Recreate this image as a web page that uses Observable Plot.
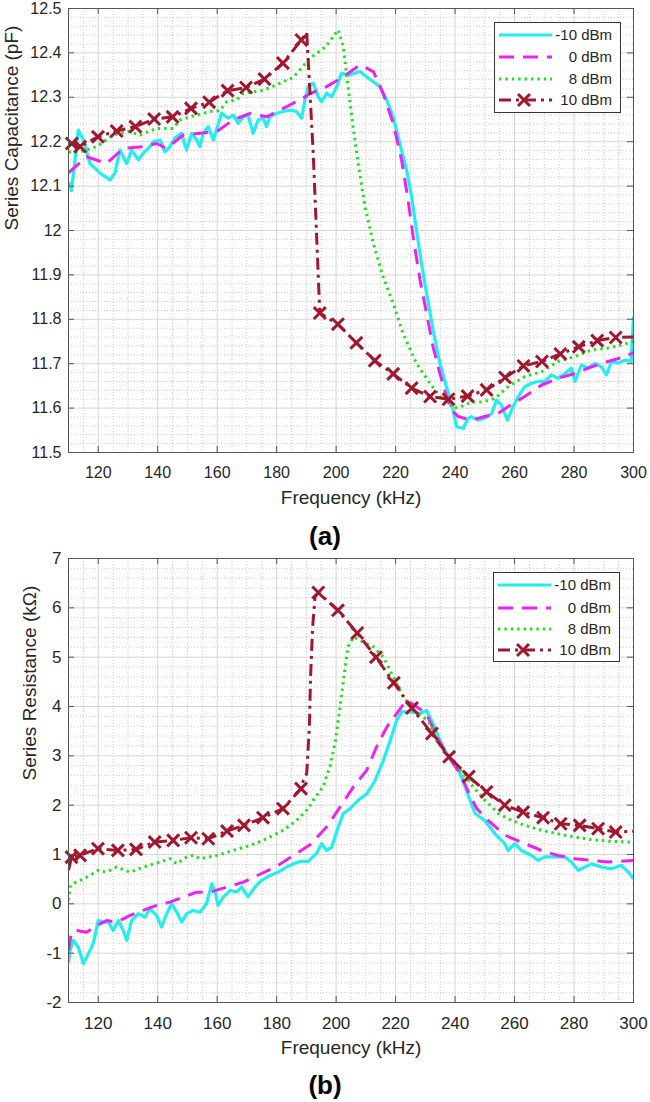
<!DOCTYPE html>
<html><head><meta charset="utf-8">
<script src="https://cdn.jsdelivr.net/npm/d3@7"></script>
<script src="https://cdn.jsdelivr.net/npm/@observablehq/plot@0.6"></script>
<style>
body{margin:0;background:#fff;}
#wrap{position:relative;width:650px;height:1102px;overflow:hidden;font-family:"Liberation Sans",Arial,sans-serif;color:#262626;background:#fff}
.panel{position:absolute;left:0}
.cap{position:absolute;left:0;width:650px;text-align:center;font-weight:bold;font-size:26px;line-height:30px;color:#000}
.legend{position:absolute;background:#fff;border:1px solid #333;box-sizing:border-box}
.legend svg{display:block}
</style></head><body><div id="wrap"></div><script>
// ---------- DATA ----------
const seriesNames = ["-10 dBm", "0 dBm", "8 dBm", "10 dBm"];
const xTicks = [120, 140, 160, 180, 200, 220, 240, 260, 280, 300];
const capTicks = [11.5, 11.6, 11.7, 11.8, 11.9, 12, 12.1, 12.2, 12.3, 12.4, 12.5];
const resTicks = [-2, -1, 0, 1, 2, 3, 4, 5, 6, 7];

// (a) Series capacitance (pF) vs frequency (kHz)
const capM10 = [[110,12.11],[111,12.09],[112.2,12.16],[113.3,12.226],[115,12.204],[117.2,12.151],[120.6,12.129],[124,12.114],[125.6,12.129],[127.3,12.181],[129.6,12.151],[131.2,12.181],[133.5,12.159],[135.1,12.174],[137.4,12.189],[138.5,12.2],[140.8,12.204],[142.4,12.177],[144.1,12.189],[145.8,12.208],[148,12.219],[149.7,12.181],[151.4,12.219],[153.1,12.204],[154.2,12.189],[155.3,12.219],[157,12.234],[158.7,12.204],[160.4,12.241],[161.5,12.264],[163.7,12.253],[165.4,12.26],[167.1,12.241],[168.8,12.256],[170.4,12.26],[172.1,12.219],[173.8,12.249],[175.5,12.253],[176.6,12.234],[177.7,12.256],[180,12.264],[182.2,12.268],[184.5,12.271],[186.7,12.268],[188.4,12.253],[189.5,12.294],[190.6,12.324],[192.3,12.332],[194,12.301],[195.1,12.29],[196.8,12.309],[198.5,12.301],[200.2,12.324],[201.8,12.354],[204.1,12.35],[206.3,12.354],[208,12.358],[210.2,12.346],[212.5,12.335],[214.7,12.324],[217,12.294],[219.2,12.256],[221.4,12.196],[223.7,12.136],[225.4,12.076],[227,12.001],[228.7,11.926],[230.4,11.859],[232.6,11.776],[234.9,11.701],[237.1,11.648],[238.8,11.611],[240.5,11.558],[242.7,11.554],[244.4,11.577],[245.5,11.581],[247.7,11.573],[250,11.577],[252.3,11.588],[253.9,11.618],[255.6,11.607],[257.6,11.573],[259.5,11.603],[261.2,11.626],[263.4,11.648],[265.7,11.656],[267.9,11.66],[270.2,11.66],[272.4,11.675],[274.6,11.667],[276.9,11.678],[279.1,11.69],[280.3,11.66],[282.5,11.697],[284.7,11.69],[287,11.701],[289.2,11.693],[290.9,11.675],[292.6,11.705],[294.8,11.701],[297.1,11.708],[299.2,11.705],[300,11.806]];
const cap0 = [[110,12.13],[116.1,12.166],[122.8,12.151],[128.4,12.185],[135.1,12.189],[139.6,12.196],[142.9,12.185],[148.6,12.215],[154.2,12.219],[159.8,12.223],[165.4,12.249],[171,12.264],[176.6,12.256],[182.2,12.275],[187.8,12.294],[191.2,12.308],[196.8,12.324],[202.4,12.346],[208,12.373],[212.5,12.358],[215.8,12.309],[219.2,12.241],[222,12.159],[224.2,12.069],[225.9,11.986],[228.2,11.889],[230.4,11.814],[232.6,11.738],[234.9,11.678],[237.1,11.626],[238.8,11.596],[241,11.581],[245.5,11.573],[250,11.581],[254.5,11.588],[257.8,11.603],[263.4,11.626],[269.1,11.652],[274.6,11.667],[280.3,11.678],[285.9,11.693],[291.4,11.705],[297.1,11.716],[300,11.725]];
const cap8 = [[110,12.177],[113.9,12.177],[119.5,12.189],[125,12.215],[130.1,12.223],[134,12.215],[139.6,12.23],[145.2,12.23],[147.5,12.249],[151.9,12.258],[157.6,12.268],[160.9,12.27],[163.2,12.29],[166.5,12.294],[168.8,12.309],[175.5,12.316],[180,12.328],[185.6,12.345],[191.2,12.388],[196.5,12.414],[200.7,12.452],[202.4,12.414],[204,12.324],[205.7,12.234],[207.4,12.151],[209.7,12.054],[212.5,11.971],[215.8,11.896],[219.2,11.836],[222.5,11.768],[227,11.701],[231.5,11.656],[236,11.618],[239.9,11.6],[242,11.603],[245.5,11.614],[249.4,11.614],[253.4,11.622],[257.8,11.648],[263.4,11.671],[269.1,11.682],[274.6,11.705],[280.3,11.716],[285.9,11.731],[291.4,11.735],[295.9,11.742],[300,11.75]];
const cap10Marks = [[111.1,12.196],[113.9,12.189],[119.9,12.211],[126.2,12.224],[132.5,12.234],[138.8,12.251],[145,12.256],[151.2,12.275],[157.3,12.289],[163.5,12.315],[169.7,12.322],[175.9,12.341],[182.1,12.377],[188.3,12.429],[194.5,11.814],[200.6,11.789],[206.8,11.747],[213,11.707],[219.2,11.677],[225.4,11.645],[231.6,11.626],[237.8,11.62],[244.2,11.627],[250.6,11.641],[256.8,11.669],[263,11.695],[269.2,11.705],[275.4,11.722],[281.6,11.738],[287.8,11.752],[294,11.759]];
const cap10Extra = [[110,12.19],[190.1,12.446],[192.3,12.174],[300,11.76]];

// (b) Series resistance (kOhm) vs frequency (kHz)
const resM10 = [[110,-1.2],[110.5,-0.945],[111.6,-0.74],[113.3,-0.88],[115,-1.21],[116.7,-1.01],[118.3,-0.81],[120,-0.34],[121.7,-0.37],[123.4,-0.37],[125,-0.54],[126.8,-0.34],[128.4,-0.54],[129.6,-0.74],[131.2,-0.34],[133.5,-0.2],[135.7,-0.27],[137.4,-0.1],[139.6,-0.235],[141.3,-0.47],[143,-0.2],[144.7,0.0],[146.4,-0.17],[148.1,-0.37],[149.8,-0.2],[151.9,-0.134],[154.2,-0.17],[156.4,0.0],[158.2,0.41],[159.3,0.24],[160.3,-0.03],[162.1,0.14],[164.4,0.27],[166.5,0.24],[168.2,0.34],[170.4,0.14],[172.7,0.34],[174.9,0.476],[177.8,0.576],[180.5,0.643],[183.3,0.745],[185.5,0.81],[187.8,0.86],[190.6,0.86],[193.4,1.02],[195.1,1.22],[196.8,1.08],[198.5,1.15],[200.7,1.556],[202.4,1.83],[204.7,1.93],[207.4,2.1],[210.3,2.23],[213.1,2.5],[215.9,2.91],[218.2,3.31],[220.4,3.72],[222,3.89],[224.8,3.89],[228.2,3.86],[230.4,3.92],[232.6,3.65],[234.9,3.31],[237.2,3.04],[239.4,2.84],[241.7,2.64],[244.4,2.2],[246.7,1.83],[250,1.69],[253.4,1.42],[256.7,1.22],[257.8,1.08],[260.1,1.22],[262.3,1.08],[265.7,0.98],[267.9,0.88],[270.2,0.95],[273.6,0.95],[276.9,0.95],[279.1,0.846],[281.4,0.68],[283.6,0.745],[285.9,0.81],[289.2,0.745],[292.6,0.71],[295.9,0.78],[298.2,0.643],[300,0.51]];
const res0 = [[110,-0.945],[111,-0.575],[112.8,-0.54],[116.1,-0.575],[119.5,-0.44],[122.8,-0.34],[126.2,-0.37],[130.7,-0.235],[135.1,-0.134],[139.6,-0.033],[144.1,0.034],[148.6,0.136],[153.1,0.237],[157.6,0.237],[163.2,0.339],[168.8,0.44],[174.4,0.6],[180,0.76],[185.6,0.98],[191.2,1.2],[196.8,1.556],[201.3,1.96],[205.8,2.37],[210.3,2.71],[213.6,3.18],[217,3.58],[220.4,3.86],[223.7,4.13],[227.1,3.99],[230.4,3.86],[233.8,3.38],[237.2,3.04],[241.7,2.64],[245,2.2],[247.3,1.93],[251.1,1.69],[256.8,1.39],[263.5,1.22],[269.1,1.08],[274.7,0.98],[280.3,0.915],[285.9,0.88],[291.4,0.846],[300,0.88]];
const res8 = [[110,0.07],[110.5,0.34],[111.6,0.41],[113.9,0.475],[117.2,0.576],[120,0.677],[122.8,0.643],[126.1,0.744],[130.7,0.643],[135.1,0.744],[140.8,0.846],[144.1,0.915],[146.4,0.813],[149.7,0.947],[151.9,0.982],[154.3,0.915],[159.9,0.982],[165.4,1.083],[171.1,1.184],[176.6,1.32],[182.2,1.49],[186.7,1.69],[190.6,1.929],[192.3,2.1],[195.6,2.37],[197.9,2.78],[199.6,3.25],[200.7,3.72],[201.9,4.26],[202.9,4.73],[204,5.21],[205.8,5.41],[208,5.34],[212.5,5.21],[215.9,5.0],[219.2,4.6],[222.6,4.19],[226,3.92],[229.3,3.79],[231.6,3.65],[233.8,3.31],[237.2,3.04],[241.7,2.71],[246.1,2.37],[250,2.1],[254.6,1.83],[259,1.69],[263.5,1.59],[269.1,1.49],[274.6,1.42],[280.3,1.353],[285.9,1.3],[291.5,1.27],[300,1.25]];
const res10Marks = [[111,0.947],[113.9,0.982],[119.9,1.118],[126.6,1.083],[132.7,1.104],[139,1.252],[145.2,1.286],[151.2,1.34],[157,1.32],[163.3,1.475],[169,1.59],[175.4,1.746],[182.1,1.929],[188.2,2.335],[194,6.31],[200.6,5.95],[207.1,5.49],[213.4,5.0],[219.4,4.48],[225.5,3.97],[232.2,3.45],[238,2.98],[244.6,2.58],[250.6,2.27],[256.7,2.0],[262.9,1.86],[269.6,1.746],[275.5,1.624],[281.9,1.59],[288.1,1.523],[294,1.455]];
const res10Extra = [[110,0.68],[189,2.503],[190.1,2.64],[191,3.58],[191.4,4.6],[192.1,5.61],[192.9,6.22],[300,1.47]];

// ---------- STYLES ----------
const styles = [
  {color: "#22eeee", width: 3.2, dash: null},
  {color: "#ee22ee", width: 3, dash: "15,9"},
  {color: "#22dd22", width: 3, dash: "2.4,4"},
  {color: "#a01830", width: 3, dash: "12,5,3,5"}
];
const gridMajor = "#d6d6d6", gridMinor = "#c6c6c6", axisColor = "#555";

const byF = (a, b) => a[0] - b[0];
const xMinor = d3.range(110, 301, 5).filter(f => f % 20 !== 0);

function makePanel(o) {
  const W = 650, mL = 68, mR = 17;
  const frameH = o.height - o.mt - o.mb;
  const frameW = W - mL - mR;
  const series = [o.m10, o.zero, o.eight, o.tenMarks.concat(o.tenExtra).sort(byF)];
  const X = p => p[0], Y = p => p[1];
  const marks = [
    Plot.ruleX(xMinor, {x: d => d, stroke: gridMinor, strokeDasharray: "1,2", strokeWidth: 0.9}),
    Plot.ruleY(o.yMinor, {y: d => d, stroke: gridMinor, strokeDasharray: "1,2", strokeWidth: 0.9}),
    Plot.ruleX(xTicks, {x: d => d, stroke: gridMajor, strokeWidth: 1}),
    Plot.ruleY(o.yTicks, {y: d => d, stroke: gridMajor, strokeWidth: 1}),
    ...series.map((d, i) => Plot.line(d, {x: X, y: Y, stroke: styles[i].color, strokeWidth: styles[i].width,
      strokeDasharray: styles[i].dash, strokeLinejoin: "round", strokeLinecap: "butt", clip: true})),
    Plot.dot(o.tenMarks, {x: X, y: Y, symbol: "times", r: 5.5, stroke: styles[3].color, strokeWidth: 3, fill: "none"}),
    Plot.frame({stroke: axisColor, strokeWidth: 1}),
    Plot.tickX(xTicks, {x: d => d, insetBottom: frameH - 6, stroke: axisColor}),
    Plot.tickX(xTicks, {x: d => d, insetTop: frameH - 6, stroke: axisColor}),
    Plot.tickY(o.yTicks, {y: d => d, insetRight: frameW - 6, stroke: axisColor}),
    Plot.tickY(o.yTicks, {y: d => d, insetLeft: frameW - 6, stroke: axisColor}),
    Plot.axisX(xTicks, {tickSize: 0, tickPadding: 14, fontSize: o.tickFont, label: null, tickFormat: d => String(d)}),
    Plot.axisY(o.yTicks, {tickSize: 0, tickPadding: 7, fontSize: o.tickFont, label: null, tickFormat: o.fmt}),
    Plot.text(["Frequency (kHz)"], {text: d => d, frameAnchor: "bottom", dy: 45.5, fontSize: 19, lineAnchor: "middle", fill: "#262626"}),
    Plot.text([o.yLabel], {text: d => d, frameAnchor: "left", dx: o.yLabelDx, rotate: -90, fontSize: 19, lineAnchor: "middle", fill: "#262626"})
  ];
  return Plot.plot({
    width: W, height: o.height, marginLeft: mL, marginRight: mR, marginTop: o.mt, marginBottom: o.mb,
    x: {domain: [110, 300]}, y: {domain: o.yDomain},
    style: {fontFamily: "'Liberation Sans', Arial, sans-serif", fontSize: o.tickFont + "px", color: "#262626", background: "#fff", overflow: "visible"},
    marks
  });
}

function legend(left, top, h, rows) {
  const div = d3.select("#wrap").append("div").attr("class", "legend")
    .style("left", left + "px").style("top", top + "px").style("width", "127px").style("height", h + "px");
  const svg = div.append("svg").attr("width", 125).attr("height", h - 2);
  seriesNames.forEach((name, i) => {
    const y = rows[i], s = styles[i];
    svg.append("line").attr("x1", 4).attr("x2", 57).attr("y1", y).attr("y2", y)
      .attr("stroke", s.color).attr("stroke-width", s.width).attr("stroke-dasharray", s.dash);
    if (i === 3) {
      svg.append("path").attr("d", d3.symbol(d3.symbolTimes, 95)()).attr("transform", `translate(29,${y})`)
        .attr("stroke", s.color).attr("stroke-width", 3).attr("fill", "none");
    }
    svg.append("text").attr("x", 117).attr("y", y).attr("dy", "0.35em").attr("text-anchor", "end")
      .attr("font-size", 15).attr("fill", "#262626").attr("font-family", "'Liberation Sans', Arial, sans-serif").text(name);
  });
}

const wrap = document.getElementById("wrap");

const pa = makePanel({
  height: 510, mt: 8, mb: 58, m10: capM10, zero: cap0, eight: cap8, tenMarks: cap10Marks, tenExtra: cap10Extra,
  yDomain: [11.5, 12.5], yTicks: capTicks, yMinor: d3.range(0, 51).map(k => 11.5 + k * 0.02).filter((v, k) => k % 5 !== 0),
  fmt: d => String(+d.toFixed(2)), yLabel: "Series Capacitance (pF)", yLabelDx: -57, tickFont: 16
});
pa.classList.add("panel"); pa.style.top = "0px";
wrap.appendChild(pa);

const pb = makePanel({
  height: 512, mt: 10, mb: 58, m10: resM10, zero: res0, eight: res8, tenMarks: res10Marks, tenExtra: res10Extra,
  yDomain: [-2, 7], yTicks: resTicks, yMinor: d3.range(0, 46).map(k => -2 + k * 0.2).filter((v, k) => k % 5 !== 0),
  fmt: d => String(d), yLabel: "Series Resistance (k\u03A9)", yLabelDx: -39, tickFont: 17
});
pb.classList.add("panel"); pb.style.top = "548px";
wrap.appendChild(pb);

const ca = document.createElement("div"); ca.className = "cap"; ca.style.top = "521px"; ca.textContent = "(a)"; wrap.appendChild(ca);
const cb = document.createElement("div"); cb.className = "cap"; cb.style.top = "1070px"; cb.textContent = "(b)"; wrap.appendChild(cb);

legend(494, 22, 91, [12, 34, 56, 77]);
legend(493, 572, 90, [12, 35, 56, 77]);
</script></body></html>
